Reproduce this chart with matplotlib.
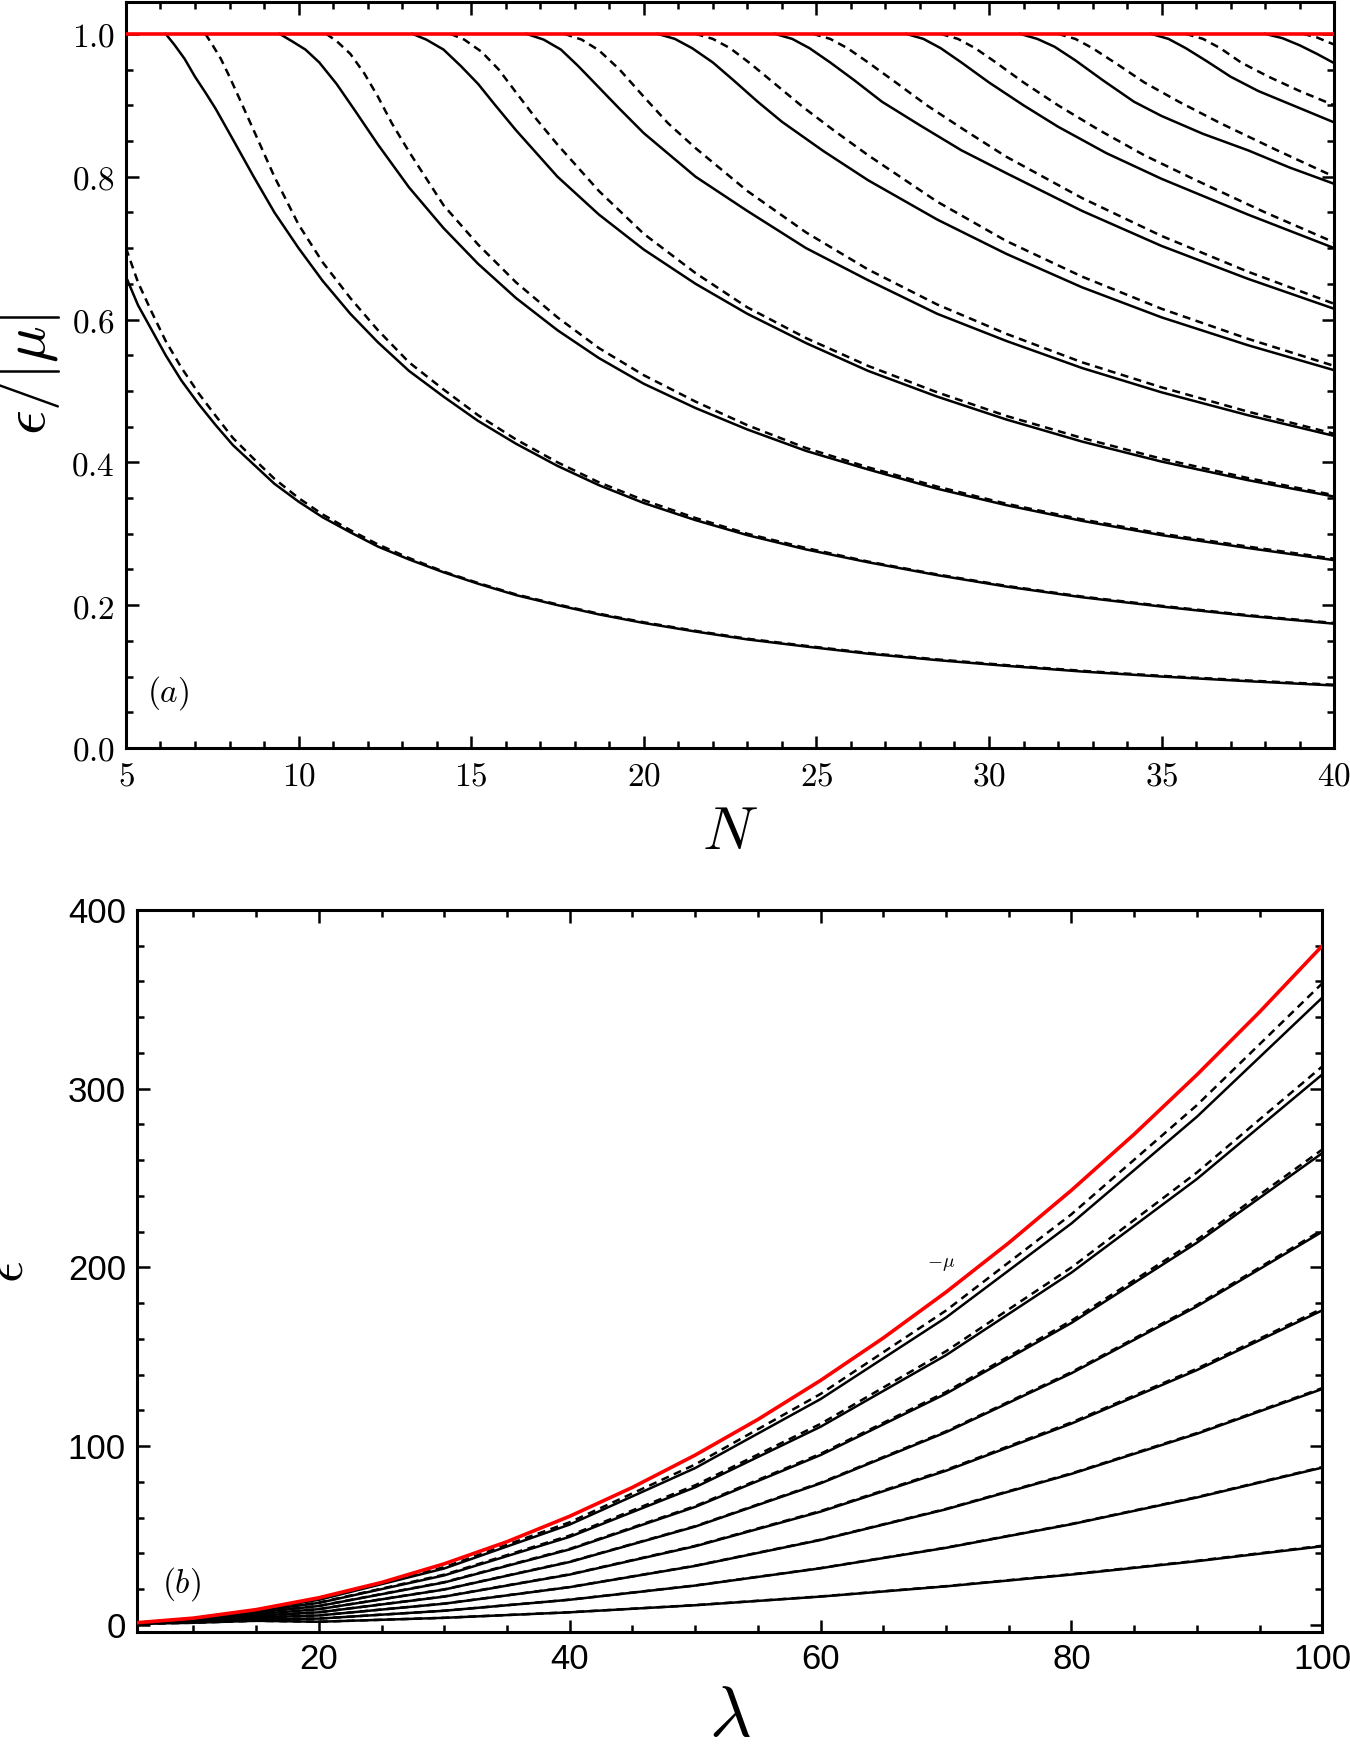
import matplotlib
matplotlib.use("Agg")
import matplotlib.pyplot as plt
from matplotlib.ticker import MultipleLocator, FixedLocator, FixedFormatter

plt.rcParams['mathtext.fontset'] = 'cm'

# ---------------- panel (a) data: eps/|mu| vs N ----------------
a_solid = [
    ([5, 5.35, 5.75, 6.15, 6.6, 7.1, 7.6, 8.1, 8.7, 9.3, 10, 10.7, 11.5, 12.3, 13.2, 14.2, 15.2, 16.3, 17.5, 18.7, 20, 21.5, 23, 24.7, 26.5, 28.5, 30.5, 32.7, 35, 37.5, 40],
     [0.66, 0.62, 0.585, 0.55, 0.515, 0.482, 0.452, 0.424, 0.397, 0.37, 0.345, 0.323, 0.302, 0.282, 0.264, 0.246, 0.23, 0.214, 0.2, 0.187, 0.175, 0.163, 0.152, 0.142, 0.132, 0.123, 0.115, 0.107, 0.1, 0.0935, 0.0875]),
    ([6.15, 6.4, 6.7, 7.0, 7.3, 7.6, 8.1, 8.7, 9.3, 10, 10.7, 11.5, 12.3, 13.2, 14.2, 15.2, 16.3, 17.5, 18.7, 20, 21.5, 23, 24.7, 26.5, 28.5, 30.5, 32.7, 35, 37.5, 40],
     [1.0, 0.985, 0.965, 0.94, 0.918, 0.895, 0.852, 0.8, 0.75, 0.70, 0.654, 0.608, 0.568, 0.528, 0.492, 0.458, 0.426, 0.395, 0.368, 0.343, 0.319, 0.298, 0.278, 0.26, 0.242, 0.226, 0.211, 0.198, 0.185, 0.174]),
    ([9.45, 9.8, 10.2, 10.6, 11.1, 11.6, 12.3, 13.2, 14.2, 15.2, 16.3, 17.5, 18.7, 20, 21.5, 23, 24.7, 26.5, 28.5, 30.5, 32.7, 35, 37.5, 40],
     [1.0, 0.99, 0.978, 0.96, 0.93, 0.895, 0.845, 0.785, 0.728, 0.678, 0.63, 0.585, 0.546, 0.51, 0.476, 0.446, 0.416, 0.39, 0.363, 0.34, 0.318, 0.298, 0.28, 0.263]),
    ([13.3, 13.7, 14.2, 14.7, 15.2, 15.7, 16.3, 17.5, 18.7, 20, 21.5, 23, 24.7, 26.5, 28.5, 30.5, 32.7, 35, 37.5, 40],
     [1.0, 0.992, 0.978, 0.955, 0.93, 0.9, 0.865, 0.8, 0.747, 0.698, 0.65, 0.608, 0.567, 0.528, 0.492, 0.46, 0.429, 0.401, 0.375, 0.352]),
    ([16.6, 17.1, 17.6, 18.1, 18.7, 19.3, 20, 21.5, 23, 24.7, 26.5, 28.5, 30.5, 32.7, 35, 37.5, 40],
     [1.0, 0.992, 0.978, 0.955, 0.925, 0.895, 0.861, 0.8, 0.752, 0.7, 0.655, 0.608, 0.57, 0.532, 0.498, 0.466, 0.437]),
    ([20.4, 20.9, 21.4, 22.0, 22.6, 23.3, 24, 25.2, 26.5, 28.5, 30.5, 32.7, 35, 37.5, 40],
     [1.0, 0.993, 0.98, 0.96, 0.935, 0.905, 0.877, 0.836, 0.795, 0.74, 0.692, 0.645, 0.603, 0.564, 0.529]),
    ([23.8, 24.3, 24.8, 25.4, 26.1, 26.9, 28, 29.2, 30.5, 32.7, 35, 37.5, 40],
     [1.0, 0.993, 0.98, 0.96, 0.935, 0.905, 0.872, 0.837, 0.805, 0.752, 0.703, 0.657, 0.615]),
    ([27.6, 28.1, 28.6, 29.2, 30, 31, 32, 33.4, 35, 37.5, 40],
     [1.0, 0.993, 0.98, 0.96, 0.932, 0.9, 0.87, 0.833, 0.797, 0.747, 0.7]),
    ([30.9, 31.4, 31.9, 32.5, 33.3, 34.2, 35, 36.2, 37.5, 38.7, 40],
     [1.0, 0.993, 0.982, 0.963, 0.935, 0.905, 0.885, 0.86, 0.837, 0.813, 0.79]),
    ([34.7, 35.2, 35.7, 36.3, 37, 37.8, 38.8, 40],
     [1.0, 0.993, 0.98, 0.962, 0.94, 0.92, 0.9, 0.876]),
    ([38.0, 38.5, 39.0, 39.5, 40],
     [1.0, 0.994, 0.984, 0.972, 0.959]),
]
a_dashed = [
    ([5, 5.35, 5.75, 6.15, 6.6, 7.1, 7.6, 8.1, 8.7, 9.3, 10, 10.7, 11.5, 12.3, 13.2, 14.2, 15.2, 16.3, 17.5, 18.7, 20, 21.5, 23, 24.7, 26.5, 28.5, 30.5, 32.7, 35, 37.5, 40],
     [0.70, 0.652, 0.61, 0.57, 0.533, 0.497, 0.465, 0.434, 0.405, 0.377, 0.35, 0.327, 0.305, 0.285, 0.266, 0.247, 0.231, 0.215, 0.201, 0.188, 0.176, 0.164, 0.153, 0.143, 0.133, 0.124, 0.116, 0.108, 0.101, 0.0945, 0.0885]),
    ([7.3, 7.5, 7.75, 8.0, 8.3, 8.7, 9.3, 10, 10.7, 11.5, 12.3, 13.2, 14.2, 15.2, 16.3, 17.5, 18.7, 20, 21.5, 23, 24.7, 26.5, 28.5, 30.5, 32.7, 35, 37.5, 40],
     [1.0, 0.985, 0.965, 0.94, 0.908, 0.865, 0.8, 0.733, 0.68, 0.63, 0.585, 0.54, 0.502, 0.466, 0.432, 0.4, 0.372, 0.347, 0.322, 0.3, 0.28, 0.261, 0.243, 0.227, 0.212, 0.199, 0.186, 0.175]),
    ([10.8, 11.1, 11.5, 11.9, 12.3, 12.7, 13.2, 14.2, 15.2, 16.3, 17.5, 18.7, 20, 21.5, 23, 24.7, 26.5, 28.5, 30.5, 32.7, 35, 37.5, 40],
     [1.0, 0.99, 0.972, 0.945, 0.912, 0.875, 0.835, 0.76, 0.705, 0.652, 0.603, 0.56, 0.522, 0.485, 0.452, 0.42, 0.393, 0.366, 0.342, 0.32, 0.3, 0.282, 0.265]),
    ([14.4, 14.8, 15.3, 15.8, 16.3, 16.9, 17.5, 18.7, 20, 21.5, 23, 24.7, 26.5, 28.5, 30.5, 32.7, 35, 37.5, 40],
     [1.0, 0.992, 0.975, 0.95, 0.918, 0.88, 0.845, 0.78, 0.72, 0.665, 0.617, 0.574, 0.535, 0.498, 0.465, 0.434, 0.405, 0.378, 0.354]),
    ([17.7, 18.2, 18.7, 19.3, 20, 20.7, 21.5, 23, 24.7, 26.5, 28.5, 30.5, 32.7, 35, 37.5, 40],
     [1.0, 0.992, 0.977, 0.95, 0.912, 0.875, 0.84, 0.78, 0.722, 0.67, 0.621, 0.58, 0.54, 0.505, 0.471, 0.44]),
    ([21.5, 22.0, 22.5, 23.1, 23.8, 24.6, 25.5, 26.5, 28.5, 30.5, 32.7, 35, 37.5, 40],
     [1.0, 0.993, 0.98, 0.958, 0.93, 0.898, 0.865, 0.83, 0.765, 0.71, 0.66, 0.615, 0.573, 0.535]),
    ([24.9, 25.4, 25.9, 26.5, 27.3, 28.2, 29.3, 30.5, 32.7, 35, 37.5, 40],
     [1.0, 0.993, 0.98, 0.96, 0.932, 0.9, 0.865, 0.828, 0.77, 0.717, 0.667, 0.622]),
    ([28.6, 29.1, 29.6, 30.2, 31, 32, 33.2, 34.5, 36, 38, 40],
     [1.0, 0.993, 0.98, 0.96, 0.932, 0.9, 0.865, 0.83, 0.795, 0.75, 0.708]),
    ([32.0, 32.5, 33.0, 33.7, 34.5, 35.5, 36.7, 38.3, 40],
     [1.0, 0.993, 0.98, 0.958, 0.932, 0.905, 0.875, 0.838, 0.80]),
    ([35.7, 36.2, 36.7, 37.3, 38.1, 39, 40],
     [1.0, 0.993, 0.98, 0.96, 0.94, 0.92, 0.90]),
    ([39.1, 39.5, 40],
     [1.0, 0.995, 0.985]),
]
a_red_N = [5, 40]
a_red_v = [1.0, 1.0]

# ---------------- panel (b) data: eps vs lambda ----------------
lam = [5, 10, 15, 20, 30, 40, 50, 60, 70, 80, 90, 100]
lam_red = [5, 10, 15, 20, 25, 30, 35, 40, 45, 50, 55, 60, 65, 70, 75, 80, 85, 90, 95, 100]
b_red = [0.95, 3.8, 8.55, 15.2, 23.75, 34.2, 46.55, 60.8, 76.95, 95, 114.95, 136.8,
         160.55, 186.2, 213.75, 243.2, 274.55, 307.8, 342.95, 380]
b_solid = [
    [0.5, 1.2, 2.3, 1.76, 3.96, 7.04, 11, 15.84, 21.56, 28.16, 35.64, 44],
    [0.57, 1.6, 3.25, 3.52, 7.92, 14.08, 22, 31.68, 43.12, 56.32, 71.28, 88],
    [0.63, 2.0, 4.2, 5.28, 11.88, 21.12, 33, 47.52, 64.68, 84.48, 106.92, 132],
    [0.69, 2.4, 5.1, 7.04, 15.84, 28.16, 44, 63.36, 86.24, 112.64, 142.56, 176],
    [0.75, 2.8, 6.0, 8.8, 19.8, 35.2, 55, 79.2, 107.8, 140.8, 178.2, 220],
    [0.81, 3.1, 6.9, 10.56, 23.76, 42.24, 66, 95.04, 129.36, 168.96, 213.84, 264],
    [0.87, 3.4, 7.7, 12.32, 27.72, 49.28, 77, 110.88, 150.92, 197.12, 249.48, 308],
    [0.92, 3.7, 8.4, 14.04, 31.59, 56.16, 87.75, 126.36, 171.99, 224.64, 284.31, 351],
]
b_dashed = [
    [0.5, 1.2, 2.3, 1.77, 3.98, 7.08, 11.07, 15.94, 21.7, 28.35, 35.88, 44.3],
    [0.57, 1.6, 3.25, 3.53, 7.95, 14.13, 22.08, 31.79, 43.27, 56.51, 71.52, 88.3],
    [0.63, 2.0, 4.2, 5.3, 11.93, 21.2, 33.13, 47.7, 64.93, 84.8, 107.33, 132.5],
    [0.69, 2.4, 5.1, 7.08, 15.93, 28.32, 44.25, 63.72, 86.73, 113.28, 143.37, 177],
    [0.75, 2.8, 6.0, 8.84, 19.89, 35.36, 55.25, 79.56, 108.29, 141.44, 179.01, 221],
    [0.81, 3.1, 6.9, 10.64, 23.94, 42.56, 66.5, 95.76, 130.34, 170.24, 215.46, 266],
    [0.87, 3.4, 7.7, 12.5, 28.13, 50, 78.13, 112.5, 153.13, 200, 253.13, 312.5],
    [0.92, 3.7, 8.4, 14.36, 32.31, 57.44, 89.75, 129.24, 175.91, 229.76, 290.79, 359],
]

fig = plt.figure(figsize=(13.5, 17.5), dpi=100)
ax1 = fig.add_axes([0.0933, 0.5726, 0.895, 0.4264])
ax2 = fig.add_axes([0.1015, 0.0674, 0.878, 0.4126])

LW = 1.8
DASH = (0, (3.2, 2.2))
for x, y in a_solid:
    ax1.plot(x, y, color='black', lw=LW)
for x, y in a_dashed:
    ax1.plot(x, y, color='black', lw=LW, ls=DASH)
ax1.plot(a_red_N, a_red_v, color='red', lw=2.6, zorder=5)
ax1.set_xlim(5, 40)
ax1.set_ylim(0, 1.045)
ax1.xaxis.set_major_locator(FixedLocator([5, 10, 15, 20, 25, 30, 35, 40]))
ax1.xaxis.set_major_formatter(FixedFormatter(['$%d$' % v for v in [5, 10, 15, 20, 25, 30, 35, 40]]))
ax1.yaxis.set_major_locator(FixedLocator([0, 0.2, 0.4, 0.6, 0.8, 1.0]))
ax1.yaxis.set_major_formatter(FixedFormatter(['$%.1f$' % v for v in [0, 0.2, 0.4, 0.6, 0.8, 1.0]]))
ax1.xaxis.set_minor_locator(MultipleLocator(1))
ax1.yaxis.set_minor_locator(MultipleLocator(0.05))
ax1.set_xlabel('$N$', fontsize=44, labelpad=8)
ax1.set_ylabel(r'$\epsilon/|\mu|$', fontsize=44, labelpad=6)
ax1.text(5.6, 0.065, '$(a)$', fontsize=24)

for y in b_solid:
    ax2.plot(lam, y, color='black', lw=LW)
for y in b_dashed:
    ax2.plot(lam, y, color='black', lw=LW, ls=DASH)
ax2.plot(lam_red, b_red, color='red', lw=2.6, zorder=5)
ax2.set_xlim(5.5, 100)
ax2.set_ylim(-4, 400)
ax2.xaxis.set_major_locator(MultipleLocator(20))
ax2.xaxis.set_minor_locator(MultipleLocator(5))
ax2.yaxis.set_major_locator(MultipleLocator(100))
ax2.yaxis.set_minor_locator(MultipleLocator(20))
ax2.set_xlabel(r'$\lambda$', fontsize=52, labelpad=4)
ax2.set_ylabel(r'$\epsilon$', fontsize=40, labelpad=24, rotation=90)
ax2.text(7.5, 18, '$(b)$', fontsize=24)
ax2.text(68.5, 200, r'$-\mu$', fontsize=14)

for ax, fs, fam in [(ax1, 24, None), (ax2, 25, 'Liberation Sans')]:
    for s in ax.spines.values():
        s.set_linewidth(2.2)
    ax.tick_params(which='both', direction='in', top=True, right=True, width=1.8)
    ax.tick_params(which='major', length=9, labelsize=fs, pad=8)
    ax.tick_params(which='minor', length=5)
    if fam:
        for lab in ax.get_xticklabels() + ax.get_yticklabels():
            lab.set_family(fam)

fig.savefig('out.png', dpi=100)
